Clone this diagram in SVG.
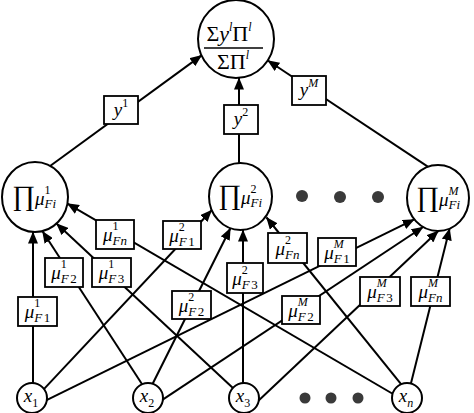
<svg xmlns="http://www.w3.org/2000/svg" width="474" height="413" viewBox="0 0 474 413">
<style>
.ln{stroke:#000;stroke-width:2;fill:none}
.bx{fill:#fff;stroke:#000;stroke-width:1.8}
.nd{fill:#fff;stroke:#000;stroke-width:2}
.t{font-family:"Liberation Serif","DejaVu Serif",serif;fill:#000;font-size:19px}
.big{font-size:22px}
.pi{font-size:28px}
.i{font-style:italic}
.sp{font-size:12px}
.sb{font-size:13px}
.dot{fill:#3a3a3a}
</style>
<defs>
<marker id="ah" markerWidth="12" markerHeight="10" refX="11.5" refY="5" orient="auto" markerUnits="userSpaceOnUse">
<path d="M0,0 L12,5 L0,10 z" fill="#000"/>
</marker>
</defs>
<rect width="474" height="413" fill="#fff"/>
<g id="connectors" class="ln" marker-end="url(#ah)">
<path d="M46,169 L201.6,55.4"/>
<path d="M239,168 L239,78"/>
<path d="M431.2,168.8 L267.8,60.5"/>
<path d="M33,390 L33,232"/>
<path d="M144.7,388.2 L42.5,231.3"/>
<path d="M236.7,391.4 L56.5,223.6"/>
<path d="M397.3,396.5 L67.4,203.6"/>
<path d="M40.6,392.6 L211.7,210.2"/>
<path d="M150.8,387.5 L230.4,228.3"/>
<path d="M243,390 L243,230"/>
<path d="M404.1,387.9 L266.5,217.5"/>
<path d="M42.5,402.2 L414.3,219.4"/>
<path d="M157.8,402.8 L423.1,227"/>
<path d="M254.4,404.4 L438.3,230.9"/>
<path d="M409.8,387.9 L449.6,228.7"/>
</g>
<g id="out">
<ellipse class="nd" cx="236" cy="39" rx="38" ry="39"/>
<text class="t big" x="229" y="41" text-anchor="middle">Σ<tspan class="i">y</tspan><tspan class="sp i" dy="-10">l</tspan><tspan dy="10">Π</tspan><tspan class="sp i" dy="-10">l</tspan></text>
<line x1="204" y1="48" x2="263" y2="48" stroke="#000" stroke-width="1.5"/>
<text class="t big" x="233" y="69" text-anchor="middle">ΣΠ<tspan class="sp i" dy="-10">l</tspan></text>
</g>
<g id="w1">
<rect class="bx" x="104" y="96" width="34" height="28"/>
<text class="t" x="121" y="116" text-anchor="middle"><tspan class="i">y</tspan><tspan class="sp" dy="-9">1</tspan></text>
</g>
<g id="w2">
<rect class="bx" x="224" y="105" width="34" height="29"/>
<text class="t" x="241" y="125" text-anchor="middle"><tspan class="i">y</tspan><tspan class="sp" dy="-9">2</tspan></text>
</g>
<g id="wM">
<rect class="bx" x="292" y="76" width="34" height="29"/>
<text class="t" x="309" y="96" text-anchor="middle"><tspan class="i">y</tspan><tspan class="sp i" dy="-9">M</tspan></text>
</g>
<g id="r1">
<ellipse class="nd" cx="35" cy="197" rx="33" ry="35"/>
<text class="t" x="34" y="205" text-anchor="middle"><tspan class="pi">∏</tspan><tspan class="i">μ</tspan><tspan class="sp" dy="-11">1</tspan><tspan class="sb i" dx="-6" dy="14">Fi</tspan></text>
</g>
<g id="r2">
<ellipse class="nd" cx="240.5" cy="196.5" rx="31.5" ry="33.5"/>
<text class="t" x="240" y="204" text-anchor="middle"><tspan class="pi">∏</tspan><tspan class="i">μ</tspan><tspan class="sp" dy="-11">2</tspan><tspan class="sb i" dx="-6" dy="14">Fi</tspan></text>
</g>
<g id="rM">
<ellipse class="nd" cx="438" cy="198" rx="31" ry="33"/>
<text class="t" x="438" y="206" text-anchor="middle"><tspan class="pi">∏</tspan><tspan class="i">μ</tspan><tspan class="sp i" dy="-11">M</tspan><tspan class="sb i" dx="-10" dy="14">Fi</tspan></text>
</g>
<g id="dots-mid">
<circle class="dot" cx="302" cy="196" r="6"/>
<circle class="dot" cx="340" cy="197" r="6"/>
<circle class="dot" cx="378" cy="197" r="6"/>
</g>
<g id="m1n">
<rect class="bx" x="96" y="220" width="38" height="29"/>
<text class="t" x="115" y="241" text-anchor="middle"><tspan class="i">μ</tspan><tspan class="sp" dy="-11">1</tspan><tspan class="sb i" dx="-6" dy="15">Fn</tspan></text>
</g>
<g id="m12">
<rect class="bx" x="45" y="258" width="38" height="29"/>
<text class="t" x="64" y="279" text-anchor="middle"><tspan class="i">μ</tspan><tspan class="sp" dy="-11">1</tspan><tspan class="sb i" dx="-6" dy="15">F</tspan><tspan class="sb" dx="1.5">2</tspan></text>
</g>
<g id="m13">
<rect class="bx" x="92" y="258" width="39" height="29"/>
<text class="t" x="111.5" y="279" text-anchor="middle"><tspan class="i">μ</tspan><tspan class="sp" dy="-11">1</tspan><tspan class="sb i" dx="-6" dy="15">F</tspan><tspan class="sb" dx="1.5">3</tspan></text>
</g>
<g id="m11">
<rect class="bx" x="18" y="297" width="39" height="29"/>
<text class="t" x="37.5" y="318" text-anchor="middle"><tspan class="i">μ</tspan><tspan class="sp" dy="-11">1</tspan><tspan class="sb i" dx="-6" dy="15">F</tspan><tspan class="sb" dx="1.5">1</tspan></text>
</g>
<g id="m21">
<rect class="bx" x="163" y="221" width="38" height="28"/>
<text class="t" x="182" y="242" text-anchor="middle"><tspan class="i">μ</tspan><tspan class="sp" dy="-11">2</tspan><tspan class="sb i" dx="-6" dy="15">F</tspan><tspan class="sb" dx="1.5">1</tspan></text>
</g>
<g id="m2n">
<rect class="bx" x="268" y="233" width="39" height="30"/>
<text class="t" x="287.5" y="255" text-anchor="middle"><tspan class="i">μ</tspan><tspan class="sp" dy="-11">2</tspan><tspan class="sb i" dx="-6" dy="15">Fn</tspan></text>
</g>
<g id="m23">
<rect class="bx" x="227" y="263" width="36" height="30"/>
<text class="t" x="245" y="285" text-anchor="middle"><tspan class="i">μ</tspan><tspan class="sp" dy="-11">2</tspan><tspan class="sb i" dx="-6" dy="15">F</tspan><tspan class="sb" dx="1.5">3</tspan></text>
</g>
<g id="m22">
<rect class="bx" x="172" y="291" width="39" height="28"/>
<text class="t" x="191.5" y="312" text-anchor="middle"><tspan class="i">μ</tspan><tspan class="sp" dy="-11">2</tspan><tspan class="sb i" dx="-6" dy="15">F</tspan><tspan class="sb" dx="1.5">2</tspan></text>
</g>
<g id="mM1">
<rect class="bx" x="318" y="238" width="38" height="28"/>
<text class="t" x="337" y="259" text-anchor="middle"><tspan class="i">μ</tspan><tspan class="sp i" dy="-11">M</tspan><tspan class="sb i" dx="-10" dy="15">F</tspan><tspan class="sb" dx="1.5">1</tspan></text>
</g>
<g id="mM2">
<rect class="bx" x="282" y="296" width="38" height="28"/>
<text class="t" x="301" y="317" text-anchor="middle"><tspan class="i">μ</tspan><tspan class="sp i" dy="-11">M</tspan><tspan class="sb i" dx="-10" dy="15">F</tspan><tspan class="sb" dx="1.5">2</tspan></text>
</g>
<g id="mM3">
<rect class="bx" x="360" y="277" width="40" height="29"/>
<text class="t" x="380" y="298" text-anchor="middle"><tspan class="i">μ</tspan><tspan class="sp i" dy="-11">M</tspan><tspan class="sb i" dx="-10" dy="15">F</tspan><tspan class="sb" dx="1.5">3</tspan></text>
</g>
<g id="mMn">
<rect class="bx" x="411" y="277" width="39" height="29"/>
<text class="t" x="430.5" y="298" text-anchor="middle"><tspan class="i">μ</tspan><tspan class="sp i" dy="-11">M</tspan><tspan class="sb i" dx="-10" dy="15">Fn</tspan></text>
</g>
<g id="x1">
<ellipse class="nd" cx="32" cy="398" rx="15" ry="15"/>
<text class="t" x="31" y="402" text-anchor="middle"><tspan class="i">x</tspan><tspan class="sp" dy="5">1</tspan></text>
</g>
<g id="x2">
<ellipse class="nd" cx="148" cy="398" rx="15" ry="15"/>
<text class="t" x="147" y="402" text-anchor="middle"><tspan class="i">x</tspan><tspan class="sp" dy="5">2</tspan></text>
</g>
<g id="x3">
<ellipse class="nd" cx="244" cy="398" rx="15" ry="15"/>
<text class="t" x="243" y="402" text-anchor="middle"><tspan class="i">x</tspan><tspan class="sp" dy="5">3</tspan></text>
</g>
<g id="xn">
<ellipse class="nd" cx="407" cy="398" rx="15" ry="15"/>
<text class="t" x="406" y="402" text-anchor="middle"><tspan class="i">x</tspan><tspan class="sp i" dy="5">n</tspan></text>
</g>
<g id="dots-bottom">
<circle class="dot" cx="305" cy="398" r="5.5"/>
<circle class="dot" cx="331" cy="398" r="5.5"/>
<circle class="dot" cx="358" cy="398" r="5.5"/>
</g>
</svg>
